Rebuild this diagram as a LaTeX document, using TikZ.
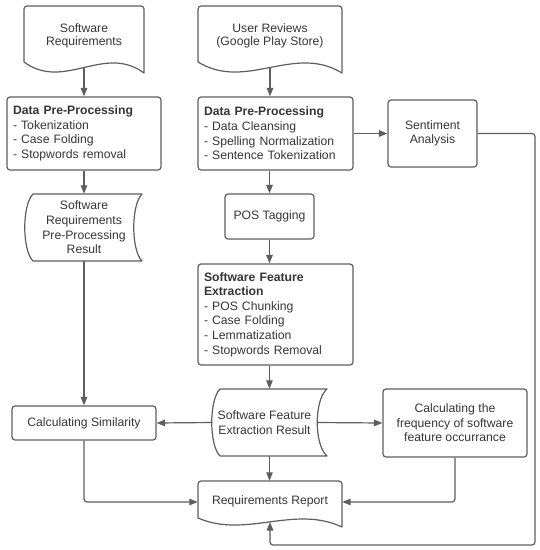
\documentclass[tikz,border=0pt]{standalone}
\usepackage{fontspec}
\setmainfont{Liberation Sans}
\usetikzlibrary{arrows.meta,calc}
\definecolor{ln}{HTML}{5E5E5E}
\definecolor{tx}{HTML}{363636}
\begin{document}
\begin{tikzpicture}[x=1pt,y=-1pt,
  every node/.style={font=\fontsize{12.2}{14.6}\selectfont, text=tx, inner sep=0pt},
  box/.style={draw=ln, line width=1.2pt, rounded corners=3pt},
  plain/.style={draw=none},
  shp/.style={draw=ln, line width=1.2pt, line join=round},
  arr/.style={draw=ln, line width=1.2pt, rounded corners=3pt, -{Triangle[length=8.5pt,width=6.5pt]}}]
\useasboundingbox (0,0) rectangle (540,550);
\fill[white] (0,0) rectangle (540,550);

% document shapes
\draw[shp] (24,62) [rounded corners=3pt] -- (24,6) -- (144,6) [sharp corners] -- (144,73) .. controls (104,43.5) and (64,91.5) .. cycle;
\draw[shp] (198,62) [rounded corners=3pt] -- (198,6) -- (342,6) [sharp corners] -- (342,73) .. controls (294,43.5) and (246,91.5) .. cycle;
\draw[shp] (198,518) [rounded corners=3pt] -- (198,481) -- (342,481) [sharp corners] -- (342,527) .. controls (294,504.5) and (246,538.8) .. cycle;
% stored data shapes
\draw[shp] (33,194) -- (142,194) .. controls (131,205) and (131,250) .. (142,261) -- (33,261) .. controls (22,250) and (22,205) .. cycle;
\draw[shp] (220,389) -- (327,389) .. controls (314,400) and (314,445) .. (327,456) -- (220,456) .. controls (209,445) and (209,400) .. cycle;

% nodes
\node[plain, minimum width=120pt, minimum height=62pt, align=center] (sr) at (84,37) {\raisebox{4pt}{\shortstack{Software\\[1pt]Requirements}}};
\node[plain, minimum width=144pt, minimum height=62pt, align=center] (ur) at (270,37) {\raisebox{4pt}{\shortstack{User Reviews\\[1pt](Google Play Store)}}};
\node[box, minimum width=154pt, minimum height=73pt, text width=142pt, align=left] (dp1) at (84,133.5)
  {\textbf{Data Pre-Processing}\\- Tokenization\\- Case Folding\\- Stopwords removal};
\node[box, minimum width=155pt, minimum height=73pt, text width=143pt, align=left] (dp2) at (275.5,133.5)
  {\textbf{Data Pre-Processing}\\- Data Cleansing\\- Spelling Normalization\\- Sentence Tokenization};
\node[box, minimum width=89pt, minimum height=67pt, align=center] (sa) at (432.5,133.5) {Sentiment\\Analysis};
\node[plain, minimum width=117pt, minimum height=67pt, align=center] (srr) at (84,227.5) {Software\\Requirements\\Pre-Processing\\Result};
\node[box, minimum width=89pt, minimum height=45pt, align=center] (pos) at (269.5,216.5) {POS Tagging};
\node[box, minimum width=155pt, minimum height=101pt, text width=143pt, align=left] (sfe) at (275.5,314.5)
  {\textbf{Software Feature}\\\textbf{Extraction}\\- POS Chunking\\- Case Folding\\- Lemmatization\\- Stopwords Removal};
\node[plain, minimum width=105pt, minimum height=67pt, align=center] (sfer) at (264.5,422.5) {Software Feature\\Extraction Result};
\node[box, minimum width=144pt, minimum height=34pt, align=center] (cs) at (84,423) {Calculating Similarity};
\node[box, minimum width=144pt, minimum height=68pt, align=center] (cf) at (455,423) {Calculating the\\frequency of software\\feature occurrance};
\node[plain, minimum width=144pt, minimum height=42pt, align=center] (rr) at (270,502) {\raisebox{4pt}{Requirements Report}};
\coordinate (rrb) at (270,522);
\coordinate (loopc) at (535,545);

% connectors
\draw[arr] (sr.south) -- (dp1.north);
\draw[arr] (ur.south) -- (ur.south |- dp2.north);
\draw[arr] (dp2.east) -- (sa.west);
\draw[arr] (dp1.south) -- (srr.north);
\draw[arr] (pos.north |- dp2.south) -- (pos.north);
\draw[arr] (pos.south) -- (pos.south |- sfe.north);
\draw[arr] (srr.south) -- (cs.north);
\draw[arr] (pos.south |- sfe.south) -- (pos.south |- sfer.north);
\draw[arr] (sfer.west) -- (cs.east);
\draw[arr] (sfer.east) -- (cf.west);
\draw[arr] (pos.south |- sfer.south) -- (pos.south |- rr.north);
\draw[arr] (cs.south) |- (rr.west);
\draw[arr] (cf.south) |- (rr.east);
\draw[arr] (sa.east) -| (loopc) -| (rrb);
\end{tikzpicture}
\end{document}
